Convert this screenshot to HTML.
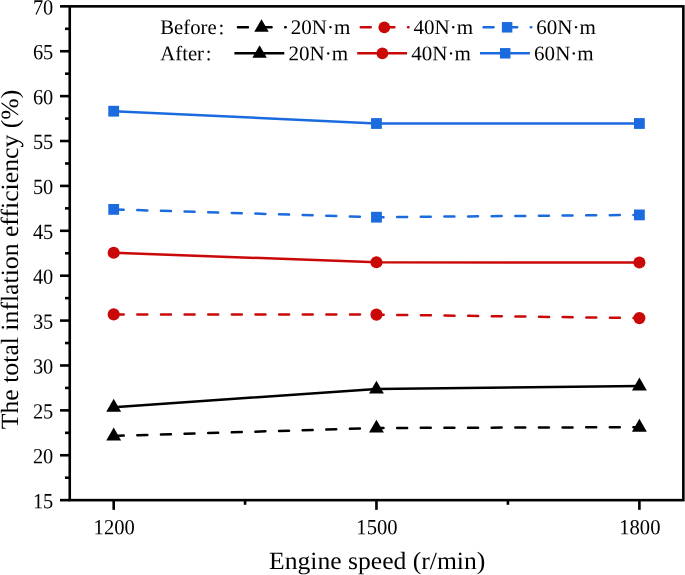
<!DOCTYPE html>
<html lang="en">
<head>
<meta charset="utf-8">
<title>The total inflation efficiency vs engine speed</title>
<style>
html,body{margin:0;padding:0;background:#fff;}
body{width:685px;height:575px;overflow:hidden;}
svg{display:block;}
text{font-family:"Liberation Serif","Noto Serif CJK SC",serif;fill:#000;text-rendering:geometricPrecision;}
.tick{font-size:21.6px;}
.leg{font-size:20.7px;}
.ttl{font-size:24.8px;}
</style>
</head>
<body>
<svg width="685" height="575" viewBox="0 0 685 575">
<rect x="0" y="0" width="685" height="575" fill="#fff"/>

<g stroke="#000" stroke-width="2.6" fill="none" stroke-linecap="butt">
<rect x="69.75" y="6.35" width="613.60" height="493.80"/>
<line x1="60" y1="500.15" x2="69.75" y2="500.15"/>
<line x1="65" y1="477.70" x2="69.75" y2="477.70"/>
<line x1="60" y1="455.26" x2="69.75" y2="455.26"/>
<line x1="65" y1="432.81" x2="69.75" y2="432.81"/>
<line x1="60" y1="410.37" x2="69.75" y2="410.37"/>
<line x1="65" y1="387.92" x2="69.75" y2="387.92"/>
<line x1="60" y1="365.48" x2="69.75" y2="365.48"/>
<line x1="65" y1="343.03" x2="69.75" y2="343.03"/>
<line x1="60" y1="320.59" x2="69.75" y2="320.59"/>
<line x1="65" y1="298.14" x2="69.75" y2="298.14"/>
<line x1="60" y1="275.70" x2="69.75" y2="275.70"/>
<line x1="65" y1="253.25" x2="69.75" y2="253.25"/>
<line x1="60" y1="230.80" x2="69.75" y2="230.80"/>
<line x1="65" y1="208.36" x2="69.75" y2="208.36"/>
<line x1="60" y1="185.91" x2="69.75" y2="185.91"/>
<line x1="65" y1="163.47" x2="69.75" y2="163.47"/>
<line x1="60" y1="141.02" x2="69.75" y2="141.02"/>
<line x1="65" y1="118.58" x2="69.75" y2="118.58"/>
<line x1="60" y1="96.13" x2="69.75" y2="96.13"/>
<line x1="65" y1="73.69" x2="69.75" y2="73.69"/>
<line x1="60" y1="51.24" x2="69.75" y2="51.24"/>
<line x1="65" y1="28.80" x2="69.75" y2="28.80"/>
<line x1="60" y1="6.35" x2="69.75" y2="6.35"/>
<line x1="113.70" y1="500.15" x2="113.70" y2="509.85"/>
<line x1="376.45" y1="500.15" x2="376.45" y2="509.85"/>
<line x1="639.40" y1="500.15" x2="639.40" y2="509.85"/>
<line x1="245.07" y1="500.15" x2="245.07" y2="504.8"/>
<line x1="507.92" y1="500.15" x2="507.92" y2="504.8"/>
</g>
<g class="tick">
<text transform="translate(53.30,508.25) rotate(0.03)" text-anchor="end" textLength="20.4" lengthAdjust="spacingAndGlyphs">15</text>
<text transform="translate(53.30,463.36) rotate(0.03)" text-anchor="end" textLength="20.4" lengthAdjust="spacingAndGlyphs">20</text>
<text transform="translate(53.30,418.47) rotate(0.03)" text-anchor="end" textLength="20.4" lengthAdjust="spacingAndGlyphs">25</text>
<text transform="translate(53.30,373.58) rotate(0.03)" text-anchor="end" textLength="20.4" lengthAdjust="spacingAndGlyphs">30</text>
<text transform="translate(53.30,328.69) rotate(0.03)" text-anchor="end" textLength="20.4" lengthAdjust="spacingAndGlyphs">35</text>
<text transform="translate(53.30,283.80) rotate(0.03)" text-anchor="end" textLength="20.4" lengthAdjust="spacingAndGlyphs">40</text>
<text transform="translate(53.30,238.90) rotate(0.03)" text-anchor="end" textLength="20.4" lengthAdjust="spacingAndGlyphs">45</text>
<text transform="translate(53.30,194.01) rotate(0.03)" text-anchor="end" textLength="20.4" lengthAdjust="spacingAndGlyphs">50</text>
<text transform="translate(53.30,149.12) rotate(0.03)" text-anchor="end" textLength="20.4" lengthAdjust="spacingAndGlyphs">55</text>
<text transform="translate(53.30,104.23) rotate(0.03)" text-anchor="end" textLength="20.4" lengthAdjust="spacingAndGlyphs">60</text>
<text transform="translate(53.30,59.34) rotate(0.03)" text-anchor="end" textLength="20.4" lengthAdjust="spacingAndGlyphs">65</text>
<text transform="translate(53.30,14.45) rotate(0.03)" text-anchor="end" textLength="20.4" lengthAdjust="spacingAndGlyphs">70</text>
</g>
<g class="tick">
<text transform="translate(114.15,534.30) rotate(0.03)" text-anchor="middle" textLength="41.1" lengthAdjust="spacingAndGlyphs">1200</text>
<text transform="translate(376.90,534.30) rotate(0.03)" text-anchor="middle" textLength="41.1" lengthAdjust="spacingAndGlyphs">1500</text>
<text transform="translate(639.85,534.30) rotate(0.03)" text-anchor="middle" textLength="41.1" lengthAdjust="spacingAndGlyphs">1800</text>
</g>
<polyline points="113.70,111.20 376.45,123.50 639.40,123.50" fill="none" stroke="#1b6bde" stroke-width="2.5" stroke-linejoin="round"/>
<rect x="108.30" y="105.80" width="10.8" height="10.8" fill="#1b6bde"/>
<rect x="371.05" y="118.10" width="10.8" height="10.8" fill="#1b6bde"/>
<rect x="634.00" y="118.10" width="10.8" height="10.8" fill="#1b6bde"/>
<polyline points="113.70,209.40 376.45,217.20 639.40,214.90" fill="none" stroke="#1b6bde" stroke-width="2.5" stroke-linejoin="round" stroke-dasharray="10 13.63" stroke-linecap="round"/>
<rect x="108.30" y="204.00" width="10.8" height="10.8" fill="#1b6bde"/>
<rect x="371.05" y="211.80" width="10.8" height="10.8" fill="#1b6bde"/>
<rect x="634.00" y="209.50" width="10.8" height="10.8" fill="#1b6bde"/>
<polyline points="113.70,252.80 376.45,262.30 639.40,262.50" fill="none" stroke="#cb0808" stroke-width="2.5" stroke-linejoin="round"/>
<circle cx="113.70" cy="252.80" r="6.05" fill="#cb0808"/>
<circle cx="376.45" cy="262.30" r="6.05" fill="#cb0808"/>
<circle cx="639.40" cy="262.50" r="6.05" fill="#cb0808"/>
<polyline points="113.70,314.40 376.45,314.60 639.40,318.10" fill="none" stroke="#cb0808" stroke-width="2.5" stroke-linejoin="round" stroke-dasharray="10 13.63" stroke-linecap="round"/>
<circle cx="113.70" cy="314.40" r="6.05" fill="#cb0808"/>
<circle cx="376.45" cy="314.60" r="6.05" fill="#cb0808"/>
<circle cx="639.40" cy="318.10" r="6.05" fill="#cb0808"/>
<polyline points="113.70,407.20 376.45,389.00 639.40,385.90" fill="none" stroke="#000" stroke-width="2.5" stroke-linejoin="round"/>
<polygon points="113.70,398.85 121.15,411.75 106.25,411.75" fill="#000"/>
<polygon points="376.45,380.65 383.90,393.55 369.00,393.55" fill="#000"/>
<polygon points="639.40,377.55 646.85,390.45 631.95,390.45" fill="#000"/>
<polyline points="113.70,435.90 376.45,428.00 639.40,427.20" fill="none" stroke="#000" stroke-width="2.5" stroke-linejoin="round" stroke-dasharray="10 13.63" stroke-linecap="round"/>
<polygon points="113.70,427.55 121.15,440.45 106.25,440.45" fill="#000"/>
<polygon points="376.45,419.65 383.90,432.55 369.00,432.55" fill="#000"/>
<polygon points="639.40,418.85 646.85,431.75 631.95,431.75" fill="#000"/>
<g class="leg">
<text transform="translate(160.30,34.10) rotate(0.03)">Before<tspan dx="1.8">:</tspan></text>
<text transform="translate(160.30,60.30) rotate(0.03)">After<tspan dx="1.8">:</tspan></text>
<line x1="237.95" y1="27.3" x2="285.70" y2="27.3" stroke="#000" stroke-width="2.5" stroke-dasharray="10 13.63" stroke-linecap="round"/>
<polygon points="261.50,19.20 268.73,31.71 254.27,31.71" fill="#000"/>
<text transform="translate(290.70,34.10) rotate(0.03)" textLength="59.6" lengthAdjust="spacingAndGlyphs">20N·m</text>
<line x1="234.40" y1="53.3" x2="284.30" y2="53.3" stroke="#000" stroke-width="2.5"/>
<polygon points="259.60,45.20 266.83,57.71 252.37,57.71" fill="#000"/>
<text transform="translate(288.50,60.30) rotate(0.03)" textLength="59.6" lengthAdjust="spacingAndGlyphs">20N·m</text>
<line x1="360.75" y1="27.3" x2="408.50" y2="27.3" stroke="#cb0808" stroke-width="2.5" stroke-dasharray="10 13.63" stroke-linecap="round"/>
<circle cx="384.30" cy="27.30" r="5.87" fill="#cb0808"/>
<text transform="translate(413.50,34.10) rotate(0.03)" textLength="59.6" lengthAdjust="spacingAndGlyphs">40N·m</text>
<line x1="357.20" y1="53.3" x2="407.10" y2="53.3" stroke="#cb0808" stroke-width="2.5"/>
<circle cx="382.40" cy="53.30" r="5.87" fill="#cb0808"/>
<text transform="translate(411.30,60.30) rotate(0.03)" textLength="59.6" lengthAdjust="spacingAndGlyphs">40N·m</text>
<line x1="483.55" y1="27.3" x2="531.30" y2="27.3" stroke="#1b6bde" stroke-width="2.5" stroke-dasharray="10 13.63" stroke-linecap="round"/>
<rect x="501.86" y="22.06" width="10.476" height="10.476" fill="#1b6bde"/>
<text transform="translate(536.30,34.10) rotate(0.03)" textLength="59.6" lengthAdjust="spacingAndGlyphs">60N·m</text>
<line x1="480.00" y1="53.3" x2="529.90" y2="53.3" stroke="#1b6bde" stroke-width="2.5"/>
<rect x="499.96" y="48.06" width="10.476" height="10.476" fill="#1b6bde"/>
<text transform="translate(534.10,60.30) rotate(0.03)" textLength="59.6" lengthAdjust="spacingAndGlyphs">60N·m</text>
</g>
<text class="ttl" transform="translate(269.00,568.90) rotate(0.03)" textLength="216.3" lengthAdjust="spacingAndGlyphs">Engine speed (r/min)</text>
<text class="ttl" transform="translate(18.10,429.20) rotate(-90)" textLength="339.5" lengthAdjust="spacingAndGlyphs">The total inflation efficiency (%)</text>
</svg>
</body>
</html>
